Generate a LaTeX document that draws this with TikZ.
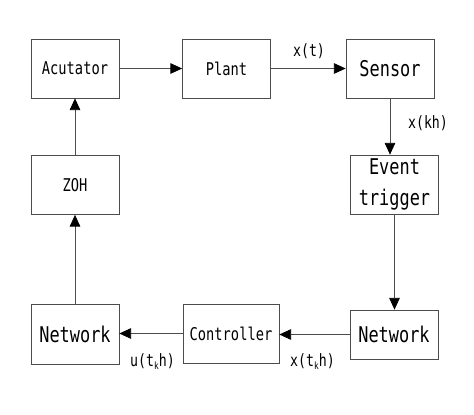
\documentclass[tikz,border=0pt]{standalone}
\usepackage{fontspec}
\setmainfont[FakeStretch=0.78]{DejaVu Sans Mono}
\usetikzlibrary{arrows.meta}
\newcommand{\subk}{{\fontsize{8.5}{8.5}\selectfont\raisebox{-2.5pt}{k}}}

\begin{document}
\begin{tikzpicture}[x=0.03cm,y=-0.03cm]
        \tikzstyle{block}=[rectangle, draw=black!70, line width=0.6pt, inner sep=0pt, minimum width=2.64cm, minimum height=1.77cm]
        \tikzstyle{small}=[font=\fontsize{15}{17}\selectfont]
        \tikzstyle{big}=[font=\fontsize{18.5}{21}\selectfont]
        \tikzstyle{lbl}=[font=\fontsize{14.5}{16}\selectfont, inner sep=0pt]
        \tikzstyle{link}=[draw=black!70, line width=0.6pt, -{Triangle[length=10pt,width=9pt,color=black]}]
        \useasboundingbox (0,0) rectangle (474,414);
        	\node[block, small] (Act) at (75,68.5) {Acutator};
        	\node[block, small] (Plant) at (226.5,68.5) {Plant};
        	\node[block, big] (Sensor) at (390,68.5) {Sensor};
        	\node[block, big, align=center, font=\fontsize{18.5}{27}\selectfont] (Event) at (394.5,184.5) {Event\\trigger};
        	\node[block, big, minimum height=1.47cm] (NetR) at (394,334.5) {Network};
        	\node[block, small, minimum width=2.88cm] (Ctrl) at (231,333.5) {Controller};
        	\node[block, big, minimum height=1.8cm] (NetL) at (75,334) {Network};
        	\node[block, small] (ZOH) at (75,185) {ZOH};
		% connections
        	\draw[link] (Act) -- (Plant);
        	\draw[link] (Plant) -- (Sensor);
        	\draw[link] (Sensor.south) -- (Sensor.south |- Event.north);
        	\draw[link] (Event.south) -- (Event.south |- NetR.north);
        	\draw[link] (NetR.west) -- (NetR.west -| Ctrl.east);
        	\draw[link] (Ctrl.west) -- (Ctrl.west -| NetL.east);
        	\draw[link] (NetL) -- (ZOH);
        	\draw[link] (ZOH) -- (Act);
		% signals
        	\node[lbl] (xt) at (309,51) {x(t)};
        	\node[lbl] (xkh) at (428,123) {x(kh)};
        	\node[lbl] (xtk) at (312.5,362) {x(t\subk h)};
        	\node[lbl] (utk) at (152.5,362) {u(t\subk h)};
		\end{tikzpicture}
\end{document}
